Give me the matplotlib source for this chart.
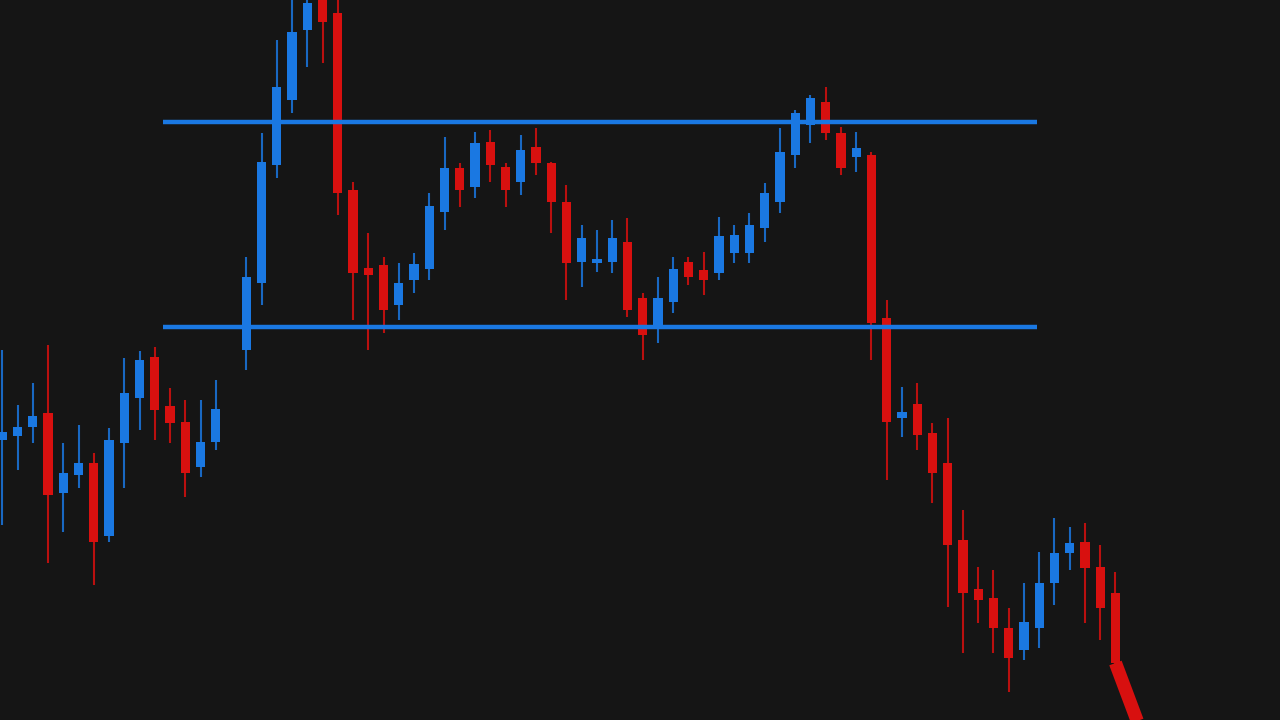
import matplotlib
matplotlib.use("Agg")
import matplotlib.pyplot as plt
import numpy as np

# candle data (bar index, open, high, low, close)
# price units: arbitrary, higher = up
bar = [0, 1, 2, 3, 4, 5, 6, 7, 8, 9, 10, 11, 12, 13, 14,
       16, 17, 18, 19, 20, 21, 22, 23, 24, 25, 26, 27, 28, 29, 30,
       31, 32, 33, 34, 35, 36, 37, 38, 39, 40, 41, 42, 43, 44, 45,
       46, 47, 48, 49, 50, 51, 52, 53, 54, 55, 56, 57, 58, 59, 60,
       61, 62, 63, 64, 65, 66, 67, 68, 69, 70, 71, 72, 73]
opens = [280, 284, 293, 307, 227, 245, 257, 184, 277, 322, 363, 314, 298, 253, 278,
         370, 437, 555, 620, 690, 720, 707, 530, 452, 455, 415, 440, 451, 508, 552,
         533, 578, 553, 538, 573, 557, 518, 458, 457, 458, 478, 422, 392, 418, 458,
         450, 447, 467, 467, 492, 518, 565, 595, 618, 587, 563, 565, 402, 302, 316,
         287, 257, 180, 131, 122, 92, 70, 92, 137, 167, 178, 153, 127]
highs = [370, 315, 337, 375, 277, 295, 267, 292, 362, 369, 373, 332, 320, 320, 340,
         463, 587, 680, 740, 740, 740, 740, 538, 487, 463, 457, 467, 527, 583, 557,
         588, 590, 557, 585, 592, 558, 535, 495, 490, 500, 502, 427, 443, 463, 463,
         468, 503, 495, 507, 537, 592, 610, 625, 633, 593, 588, 568, 420, 333, 337,
         297, 302, 210, 153, 150, 112, 137, 168, 202, 193, 197, 175, 148]
lows = [195, 250, 277, 157, 188, 232, 135, 178, 232, 290, 280, 277, 223, 243, 270,
        350, 415, 542, 607, 653, 657, 505, 400, 370, 387, 400, 427, 440, 490, 513,
        522, 538, 513, 525, 545, 487, 420, 433, 448, 447, 403, 360, 377, 407, 435,
        425, 440, 457, 457, 478, 507, 552, 577, 580, 545, 548, 360, 240, 283, 270,
        217, 113, 67, 97, 67, 28, 60, 72, 115, 150, 97, 80, 55]
closes = [288, 293, 304, 225, 247, 257, 178, 280, 327, 360, 310, 297, 247, 278, 311,
          443, 558, 633, 688, 717, 698, 527, 447, 445, 410, 437, 456, 514, 552, 530,
          577, 555, 530, 570, 557, 518, 457, 482, 457, 482, 410, 385, 422, 451, 443,
          440, 484, 485, 495, 527, 568, 607, 622, 587, 552, 572, 397, 298, 308, 285,
          247, 175, 127, 120, 92, 62, 98, 137, 167, 177, 152, 112, 57]

# the live price still dropping after the last bar
tail_bar = [73.0, 74.6]
tail_price = [57, -8]

# the range box
box_top = 598
box_bottom = 393
box_from, box_to = 10.55, 67.85

bg = "#151515"
up_col = "#1a78e2"
down_col = "#d8100f"

fig = plt.figure(figsize=(12.8, 7.2), dpi=100, facecolor=bg)
ax = fig.add_axes([0, 0, 1, 1], facecolor=bg)

bar = np.array(bar)
opens = np.array(opens)
highs = np.array(highs)
lows = np.array(lows)
closes = np.array(closes)
up = closes >= opens
colors = np.where(up, up_col, down_col)

# wicks
ax.vlines(bar, lows, highs, colors=colors, linewidth=1.5, alpha=0.85, zorder=2)
# bodies
body_lo = np.minimum(opens, closes)
body_h = np.maximum(np.abs(closes - opens), 4)
ax.bar(bar, body_h, bottom=body_lo, width=0.6, color=colors, zorder=3)

# range lines
ax.hlines([box_top, box_bottom], box_from, box_to, colors=up_col, linewidth=3.2, zorder=4)

# tail
ax.plot(tail_bar, tail_price, color=down_col, linewidth=9.5, solid_capstyle="butt", zorder=3)

ax.set_xlim(-0.15, 83.79)
ax.set_ylim(0, 720)
ax.axis("off")

fig.savefig("out.png", dpi=100, facecolor=bg)
